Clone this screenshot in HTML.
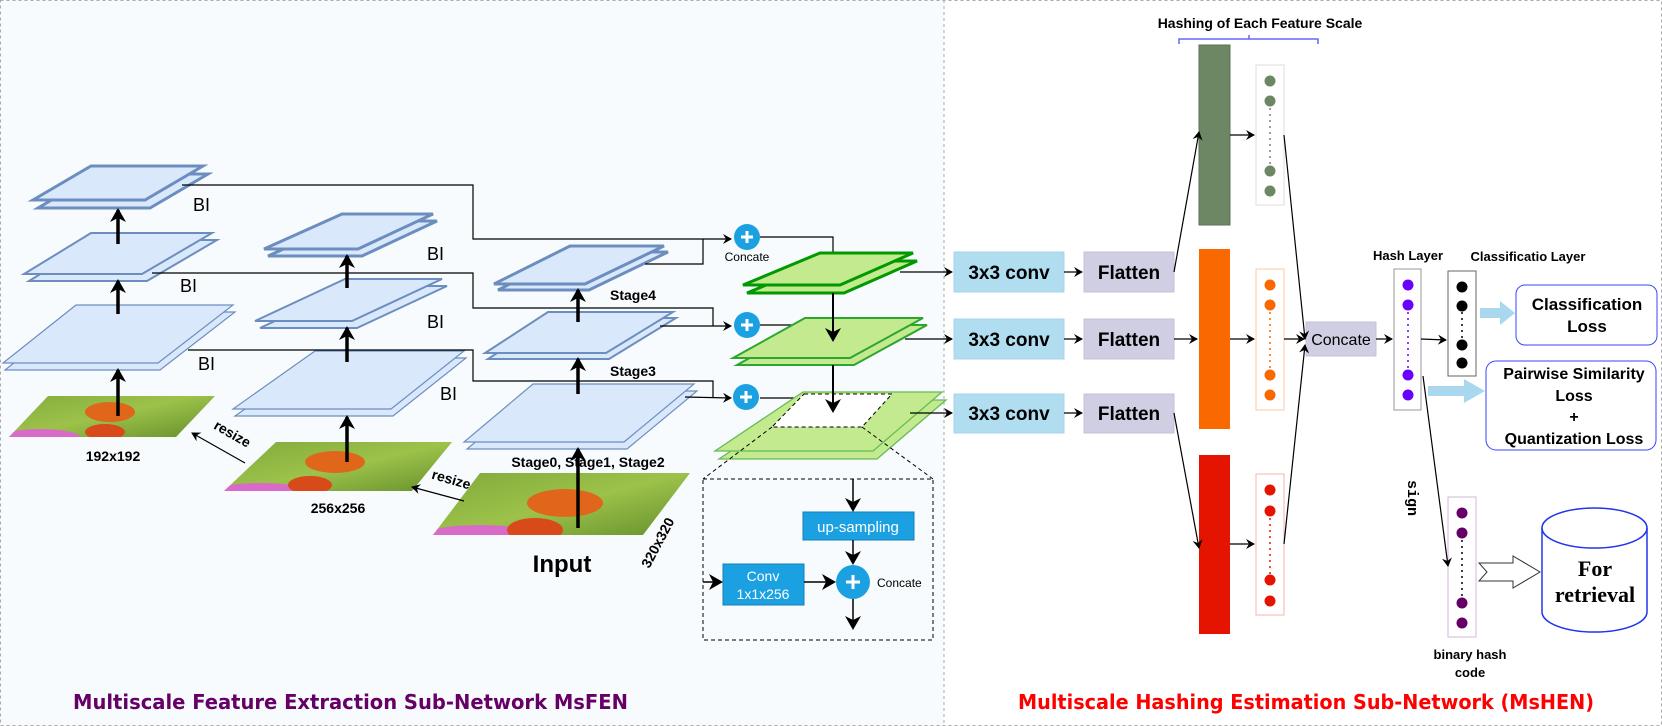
<!DOCTYPE html>
<html><head><meta charset="utf-8"><style>
html,body{margin:0;padding:0;background:#fff;}
svg{display:block;}
text{font-family:"Liberation Sans",sans-serif;}
</style></head><body>
<svg width="1662" height="726" viewBox="0 0 1662 726" xmlns="http://www.w3.org/2000/svg">
<defs>
<marker id="a" markerWidth="10" markerHeight="10" refX="8" refY="5" orient="auto" markerUnits="userSpaceOnUse"><path d="M0,0 L9,5 L0,10 L3,5 z" fill="#000"/></marker>
<marker id="ab" markerWidth="16" markerHeight="16" refX="12" refY="8" orient="auto" markerUnits="userSpaceOnUse"><path d="M0,0 L14,8 L0,16 L4,8 z" fill="#000"/></marker>
<linearGradient id="bf" x1="0" y1="0" x2="1" y2="1"><stop offset="0" stop-color="#7fa83a"/><stop offset="0.5" stop-color="#9cc24a"/><stop offset="1" stop-color="#5f8a28"/></linearGradient>
<clipPath id="c1"><polygon points="48,396 215,396 176,437 9,437"/></clipPath>
<clipPath id="c2"><polygon points="276,442 452,442 412,491 224,491"/></clipPath>
<clipPath id="c3"><polygon points="480,473 690,473 643,535 433,535"/></clipPath>
</defs>
<rect x="0" y="0" width="944" height="726" fill="#f7fbfd"/>
<rect x="0.5" y="0.5" width="1661" height="725" fill="none" stroke="#aaa" stroke-dasharray="3,3"/>
<line x1="944" y1="0" x2="944" y2="726" stroke="#aaa" stroke-dasharray="3,3"/>

<!-- images -->
<g clip-path="url(#c1)"><rect x="0" y="390" width="220" height="50" fill="url(#bf)"/><ellipse cx="40" cy="437" rx="40" ry="8" fill="#d86bc8"/><ellipse cx="105" cy="432" rx="20" ry="8" fill="#d94a1a"/><ellipse cx="110" cy="412" rx="25" ry="10" fill="#e0661c"/></g>
<g clip-path="url(#c2)"><rect x="220" y="440" width="240" height="55" fill="url(#bf)"/><ellipse cx="260" cy="491" rx="45" ry="8" fill="#d86bc8"/><ellipse cx="310" cy="485" rx="22" ry="9" fill="#d94a1a"/><ellipse cx="335" cy="462" rx="30" ry="11" fill="#e0661c"/></g>
<g clip-path="url(#c3)"><rect x="430" y="470" width="265" height="70" fill="url(#bf)"/><ellipse cx="480" cy="535" rx="55" ry="10" fill="#d86bc8"/><ellipse cx="535" cy="530" rx="28" ry="12" fill="#d94a1a"/><ellipse cx="565" cy="503" rx="38" ry="14" fill="#e0661c"/></g>

<!-- blue planes -->
<g fill="#dae8fc" stroke="#6c8ebf">
<g stroke-width="3"><polygon points="96,174 208,174 150,208 38,208"/><polygon points="91,166 203,166 145,200 33,200"/></g>
<g stroke-width="2"><polygon points="96,240 217,240 147,281 29,281"/><polygon points="91,233 212,233 142,274 24,274"/></g>
<g stroke-width="1.2"><polygon points="78,312 235,312 160,370 5,370"/><polygon points="76,305 233,305 158,363 3,363"/></g>
<g stroke-width="3"><polygon points="346,221 437,221 362,256 268,256"/><polygon points="342,214 433,214 358,249 264,249"/></g>
<g stroke-width="2"><polygon points="350,286 447,286 357,328 260,328"/><polygon points="345,279 442,279 352,321 255,321"/></g>
<g stroke-width="1.2"><polygon points="317,358 466,358 393,416 235,416"/><polygon points="315,351 464,351 391,409 233,409"/></g>
<g stroke-width="3"><polygon points="574,252 668,252 589,290 498,290"/><polygon points="570,246 664,246 585,284 494,284"/></g>
<g stroke-width="2"><polygon points="551,318 676,318 609,359 488,359"/><polygon points="548,312 673,312 606,353 485,353"/></g>
<g stroke-width="1.2"><polygon points="536,391 697,391 627,449 467,449"/><polygon points="533,384 694,384 624,442 464,442"/></g>
</g>

<!-- up arrows -->
<g stroke="#000" stroke-width="3.5" marker-end="url(#ab)">
<line x1="118" y1="416" x2="118" y2="370"/><line x1="118" y1="314" x2="118" y2="281"/><line x1="118" y1="244" x2="118" y2="210"/>
<line x1="347" y1="462" x2="347" y2="417"/><line x1="347" y1="362" x2="347" y2="328"/><line x1="347" y1="288" x2="347" y2="256"/>
<line x1="578" y1="528" x2="578" y2="449"/><line x1="578" y1="394" x2="578" y2="359"/><line x1="578" y1="322" x2="578" y2="290"/>
</g>

<!-- connectors -->
<g stroke="#000" stroke-width="1.2" fill="none">
<polyline points="182,185 473,185 473,239 731,239" marker-end="url(#a)"/>
<polyline points="645,264 703,264 703,239"/>
<polyline points="152,273 473,273 473,308 713,308 713,326"/>
<polyline points="660,326 731,326" marker-end="url(#a)"/>
<polyline points="188,350 473,350 473,381 713,381 713,398"/>
<polyline points="685,397 731,398" marker-end="url(#a)"/>
<polyline points="760,237 833,237 833,268" marker-end="url(#a)"/>
<line x1="760" y1="325" x2="831" y2="325" marker-end="url(#a)"/>
<line x1="760" y1="398" x2="831" y2="398" marker-end="url(#a)"/>
</g>

<!-- green planes -->
<g fill="#c3ea8e">
<g stroke="#009900" stroke-width="3"><polygon points="824,261 917,261 844,293 747,293"/><polygon points="820,253 913,253 840,285 743,285"/></g>
<g stroke="#2ea52e" stroke-width="2"><polygon points="809,325 927,325 854,365 737,365"/><polygon points="805,318 923,318 850,358 733,358"/></g>
<g stroke="#66bb55" stroke-width="1.3"><polygon points="807,400 946,400 877,459 719,459"/><polygon points="803,392 942,392 873,451 715,451"/></g>
</g>
<polygon points="804,394 892,394 862,427 772,427" fill="#fff" stroke="#000" stroke-dasharray="4,3"/>
<g stroke="#000" stroke-width="2" marker-end="url(#ab)">
<line x1="833" y1="293" x2="833" y2="340"/><line x1="833" y1="365" x2="833" y2="411"/>
</g>
<g stroke="#000" stroke-width="1.2" marker-end="url(#a)">
<line x1="900" y1="272" x2="952" y2="272"/><line x1="905" y1="339" x2="952" y2="339"/><line x1="910" y1="413" x2="952" y2="413"/>
</g>

<!-- concat circles -->
<g fill="#1ba1e2"><circle cx="747" cy="237" r="13"/><circle cx="747" cy="325" r="13"/><circle cx="746" cy="397" r="13"/><circle cx="853" cy="582" r="17"/></g>
<g stroke="#fff" stroke-width="3">
<line x1="741" y1="237" x2="753" y2="237"/><line x1="747" y1="231" x2="747" y2="243"/>
<line x1="741" y1="325" x2="753" y2="325"/><line x1="747" y1="319" x2="747" y2="331"/>
<line x1="740" y1="397" x2="752" y2="397"/><line x1="746" y1="391" x2="746" y2="403"/>
<line x1="846" y1="582" x2="860" y2="582"/><line x1="853" y1="575" x2="853" y2="589"/>
</g>
<text x="747" y="261" font-size="12" text-anchor="middle">Concate</text>

<!-- dashed detail box -->
<rect x="703" y="479" width="230" height="161" fill="none" stroke="#000" stroke-dasharray="4,3"/>
<line x1="772" y1="427" x2="703" y2="479" stroke="#000" stroke-dasharray="4,3"/>
<line x1="862" y1="427" x2="933" y2="479" stroke="#000" stroke-dasharray="4,3"/>
<rect x="803" y="512" width="111" height="28" fill="#1ba1e2" stroke="#1580b8"/>
<text x="858" y="532" font-size="15" fill="#fff" text-anchor="middle">up-sampling</text>
<rect x="723" y="564" width="81" height="41" fill="#1ba1e2" stroke="#1580b8"/>
<text x="763" y="581" font-size="14" fill="#fff" text-anchor="middle">Conv</text>
<text x="763" y="599" font-size="14" fill="#fff" text-anchor="middle">1x1x256</text>
<text x="877" y="587" font-size="12">Concate</text>
<g stroke="#000" stroke-width="1.5" marker-end="url(#ab)">
<line x1="853" y1="479" x2="853" y2="510"/><line x1="853" y1="540" x2="853" y2="563"/>
<line x1="703" y1="582" x2="721" y2="582"/><line x1="804" y1="582" x2="834" y2="582"/>
<line x1="853" y1="599" x2="853" y2="628"/>
</g>

<!-- left labels -->
<g font-size="18"><text x="193" y="211">BI</text><text x="180" y="292">BI</text><text x="198" y="370">BI</text>
<text x="427" y="260">BI</text><text x="427" y="328">BI</text><text x="440" y="400">BI</text></g>
<g font-size="14" font-weight="bold"><text x="113" y="461" text-anchor="middle">192x192</text><text x="338" y="513" text-anchor="middle">256x256</text>
<text x="610" y="300">Stage4</text><text x="610" y="376">Stage3</text><text x="588" y="467" text-anchor="middle">Stage0, Stage1, Stage2</text>
<text transform="translate(662,545) rotate(-62)" text-anchor="middle">320x320</text>
<text transform="translate(230,438) rotate(30)" text-anchor="middle">resize</text>
<text transform="translate(450,484) rotate(16)" text-anchor="middle">resize</text></g>
<text x="562" y="572" font-size="24" font-weight="bold" text-anchor="middle">Input</text>
<g stroke="#000" stroke-width="1.2" marker-end="url(#a)"><line x1="245" y1="463" x2="192" y2="433"/><line x1="464" y1="501" x2="412" y2="487"/></g>
<text x="73" y="709" font-size="20" font-weight="bold" fill="#660066" textLength="555" lengthAdjust="spacingAndGlyphs" style="font-family:'DejaVu Sans Condensed','DejaVu Sans',sans-serif">Multiscale Feature Extraction Sub-Network MsFEN</text>

<!-- right panel -->
<text x="1260" y="28" font-size="14" font-weight="bold" text-anchor="middle">Hashing of Each Feature Scale</text>
<polyline points="1179,44 1179,39 1318,39 1318,44" fill="none" stroke="#6666ff" stroke-width="1.5"/>
<line x1="1249" y1="39" x2="1249" y2="35" stroke="#6666ff" stroke-width="1.5"/>
<g fill="#b1ddf0" stroke="#a8d4ea"><rect x="954" y="252" width="110" height="40"/><rect x="954" y="319" width="110" height="40"/><rect x="954" y="394" width="110" height="39"/></g>
<g fill="#d0cee2" stroke="#c4c2d8"><rect x="1084" y="252" width="90" height="40"/><rect x="1084" y="319" width="90" height="40"/><rect x="1084" y="394" width="90" height="39"/><rect x="1306" y="322" width="70" height="34"/></g>
<g font-size="19" font-weight="bold" text-anchor="middle"><text x="1009" y="279">3x3 conv</text><text x="1009" y="346">3x3 conv</text><text x="1009" y="420">3x3 conv</text>
<text x="1129" y="279">Flatten</text><text x="1129" y="346">Flatten</text><text x="1129" y="420">Flatten</text></g>
<text x="1341" y="345" font-size="16" text-anchor="middle">Concate</text>
<rect x="1199" y="45" width="31" height="180" fill="#6d8764" stroke="#5a7356"/>
<rect x="1199" y="249" width="31" height="180" fill="#fa6800"/>
<rect x="1199" y="455" width="31" height="179" fill="#e51400"/>
<rect x="1256" y="65" width="28" height="140" fill="#fff" stroke="#ddd"/>
<rect x="1256" y="269" width="28" height="141" fill="#fff" stroke="#fcc9a3"/>
<rect x="1256" y="474" width="28" height="141" fill="#fff" stroke="#f5b3ad"/>
<rect x="1394" y="269" width="27" height="141" fill="#fff" stroke="#999"/>
<rect x="1448" y="271" width="28" height="105" fill="#fff" stroke="#666"/>
<rect x="1448" y="497" width="28" height="140" fill="#fff" stroke="#d0b8d8"/>
<g stroke-width="1.5" stroke-dasharray="2,4">
<line x1="1270" y1="108" x2="1270" y2="166" stroke="#6d8764"/><line x1="1270" y1="312" x2="1270" y2="370" stroke="#fa6800"/>
<line x1="1270" y1="518" x2="1270" y2="575" stroke="#e51400"/><line x1="1408" y1="312" x2="1408" y2="370" stroke="#6a00ff"/>
<line x1="1462" y1="312" x2="1462" y2="340" stroke="#000"/><line x1="1462" y1="540" x2="1462" y2="598" stroke="#000"/></g>
<g fill="#6d8764"><circle cx="1270" cy="81" r="5.5"/><circle cx="1270" cy="101" r="5.5"/><circle cx="1270" cy="171" r="5.5"/><circle cx="1270" cy="191" r="5.5"/></g>
<g fill="#fa6800"><circle cx="1270" cy="285" r="5.5"/><circle cx="1270" cy="305" r="5.5"/><circle cx="1270" cy="375" r="5.5"/><circle cx="1270" cy="395" r="5.5"/></g>
<g fill="#e51400"><circle cx="1270" cy="490" r="5.5"/><circle cx="1270" cy="511" r="5.5"/><circle cx="1270" cy="580" r="5.5"/><circle cx="1270" cy="601" r="5.5"/></g>
<g fill="#6a00ff"><circle cx="1408" cy="285" r="5.5"/><circle cx="1408" cy="305" r="5.5"/><circle cx="1408" cy="375" r="5.5"/><circle cx="1408" cy="395" r="5.5"/></g>
<g fill="#000"><circle cx="1462" cy="287" r="5.5"/><circle cx="1462" cy="306" r="5.5"/><circle cx="1462" cy="345" r="5.5"/><circle cx="1462" cy="363" r="5.5"/></g>
<g fill="#660066"><circle cx="1462" cy="513" r="5.5"/><circle cx="1462" cy="533" r="5.5"/><circle cx="1462" cy="603" r="5.5"/><circle cx="1462" cy="623" r="5.5"/></g>
<g stroke="#000" stroke-width="1.2" marker-end="url(#a)">
<line x1="1064" y1="272" x2="1082" y2="272"/><line x1="1064" y1="339" x2="1082" y2="339"/><line x1="1064" y1="413" x2="1082" y2="413"/>
<line x1="1174" y1="272" x2="1199" y2="132"/><line x1="1174" y1="339" x2="1197" y2="339"/><line x1="1174" y1="413" x2="1199" y2="548"/>
<line x1="1230" y1="135" x2="1254" y2="135"/><line x1="1230" y1="339" x2="1254" y2="339"/><line x1="1230" y1="544" x2="1254" y2="544"/>
<line x1="1284" y1="135" x2="1305" y2="339"/><line x1="1284" y1="339" x2="1304" y2="339"/><line x1="1284" y1="544" x2="1305" y2="345"/>
<line x1="1376" y1="339" x2="1392" y2="339"/><line x1="1421" y1="339" x2="1446" y2="340"/>
<line x1="1423" y1="376" x2="1448" y2="566"/>
</g>
<text x="1408" y="260" font-size="13" font-weight="bold" text-anchor="middle">Hash Layer</text>
<text x="1528" y="261" font-size="13" font-weight="bold" text-anchor="middle">Classificatio Layer</text>
<rect x="1516" y="285" width="141" height="60" rx="9" fill="#fff" stroke="#3344ff"/>
<text x="1587" y="310" font-size="17" font-weight="bold" text-anchor="middle">Classification</text>
<text x="1587" y="332" font-size="17" font-weight="bold" text-anchor="middle">Loss</text>
<rect x="1486" y="361" width="170" height="89" rx="10" fill="#fff" stroke="#3344ff"/>
<g font-size="16" font-weight="bold" text-anchor="middle"><text x="1574" y="379">Pairwise Similarity</text><text x="1574" y="401">Loss</text><text x="1574" y="422">+</text><text x="1574" y="444">Quantization Loss</text></g>
<polygon points="1480,308 1500,308 1500,301 1515,313 1500,325 1500,318 1480,318" fill="#a9d8ee"/>
<polygon points="1428,386 1464,386 1464,379 1485,391 1464,403 1464,396 1428,396" fill="#a9d8ee"/>
<text transform="translate(1408,480) rotate(90)" font-size="15" font-weight="bold" style="font-family:'Liberation Mono',monospace">sign</text>
<text x="1470" y="659" font-size="13" font-weight="bold" text-anchor="middle">binary hash</text>
<text x="1470" y="677" font-size="13" font-weight="bold" text-anchor="middle">code</text>
<polygon points="1479,563 1513,563 1513,556 1540,572 1513,588 1513,581 1479,581 1487,572" fill="#fff" stroke="#333"/>
<path d="M1542,528 L1542,612 A52.5,20 0 0 0 1647,612 L1647,528 A52.5,20 0 0 0 1542,528 Z" fill="#fff" stroke="#2233ee" stroke-width="1.5"/>
<path d="M1542,528 A52.5,20 0 0 0 1647,528" fill="none" stroke="#2233ee" stroke-width="1.5"/>
<text x="1595" y="576" font-size="22" font-weight="bold" text-anchor="middle" style="font-family:'Liberation Serif',serif">For</text>
<text x="1595" y="602" font-size="22" font-weight="bold" text-anchor="middle" style="font-family:'Liberation Serif',serif">retrieval</text>
<text x="1018" y="709" font-size="20" font-weight="bold" fill="#ff0000" textLength="576" lengthAdjust="spacingAndGlyphs" style="font-family:'DejaVu Sans Condensed','DejaVu Sans',sans-serif">Multiscale Hashing Estimation Sub-Network (MsHEN)</text>
</svg>
</body></html>
